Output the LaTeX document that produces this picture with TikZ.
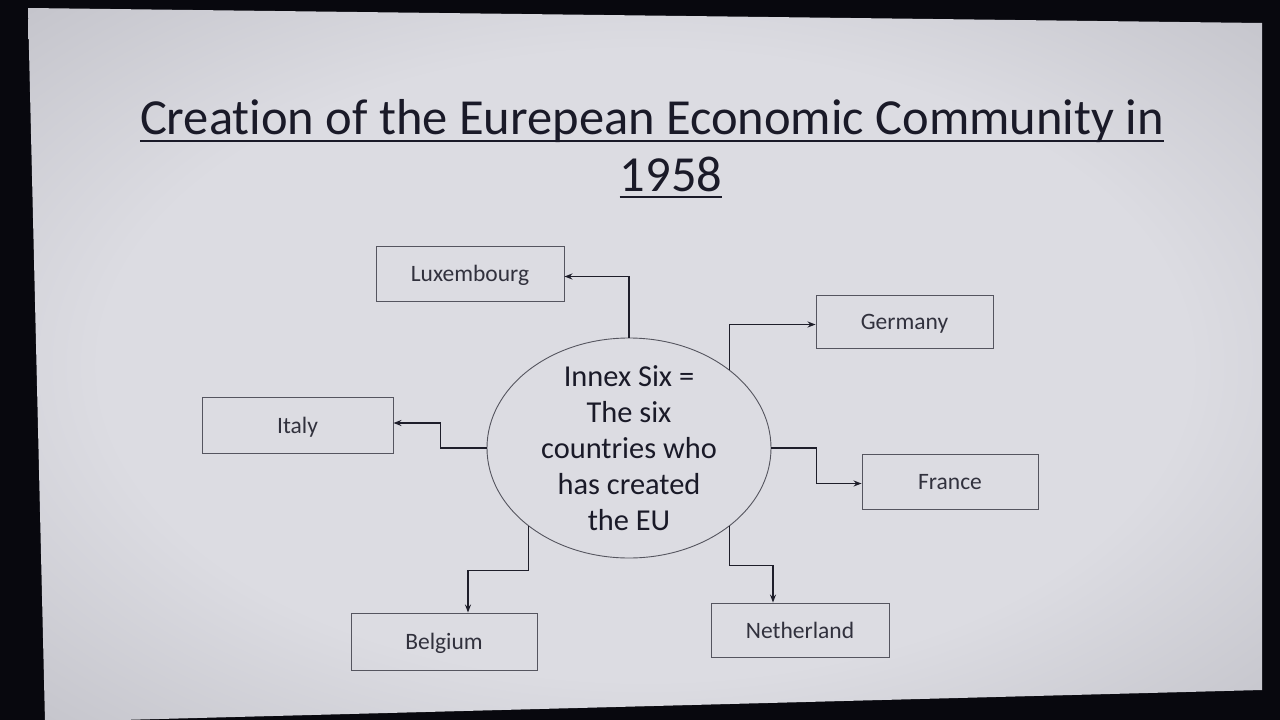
\documentclass[tikz,border=0pt]{standalone}
\usepackage{fontspec}
\setmainfont[Ligatures={NoCommon}]{Carlito}
\usetikzlibrary{arrows.meta,shapes.geometric}
\definecolor{framec}{RGB}{8,8,14}
\definecolor{scrA}{RGB}{220,220,226}
\definecolor{scrB}{RGB}{175,175,183}
\definecolor{scrC}{RGB}{85,85,95}
\definecolor{inkc}{RGB}{26,26,40}
\definecolor{linec}{RGB}{30,30,42}
\definecolor{boxc}{RGB}{85,85,95}
\pgfdeclareradialshading{screenshade}{\pgfpoint{0bp}{0bp}}{color(0bp)=(scrA); color(22bp)=(scrA); color(48bp)=(scrB); color(72bp)=(scrC)}
\tikzset{
  titletext/.style={font=\fontsize{50.5}{58}\selectfont, text=inkc, inner sep=0pt, anchor=base},
  country/.style={draw=boxc, line width=0.9pt, rectangle, inner sep=0pt, text=inkc!90, font=\fontsize{23.5}{28}\selectfont, text depth=0pt},
  hubstyle/.style={draw=boxc, line width=0.9pt, ellipse, inner xsep=0pt, inner ysep=-15pt, minimum width=284pt, minimum height=220pt, align=center, text=inkc, font=\fontsize{30.4}{36}\selectfont},
  conn/.style={draw=linec, line width=1.4pt, -{Stealth[length=8pt,width=6pt]}},
  ulinestyle/.style={draw=inkc, line width=1.8pt}
}
\begin{document}
\begin{tikzpicture}[x=1pt,y=-1pt]
\useasboundingbox (0,0) rectangle (1280,720);
\fill[framec] (0,0) rectangle (1280,720);
\shade[shading=screenshade] (28,8) -- (1262,23) -- (1262,690) -- (45,722) -- cycle;

\node[titletext] (t1) at (652,134) {Creation of the Eurepean Economic Community in};
\node[titletext] (t2) at (671,191) {1958};
\draw[ulinestyle] ([yshift=-7]t1.base west) -- ([yshift=-7]t1.base east);
\draw[ulinestyle] ([yshift=-6]t2.base west) -- ([yshift=-6]t2.base east);

\node[hubstyle] (hub) at (629,448) {Innex Six =\\The six\\countries who\\has created\\the EU};

\node[country, minimum width=188pt, minimum height=55pt] (lux) at (470,273.5) {Luxembourg};
\node[country, minimum width=177pt, minimum height=53pt] (ger) at (904.5,321.5) {Germany};
\node[country, minimum width=191pt, minimum height=56pt] (ita) at (297.5,425) {Italy};
\node[country, minimum width=176pt, minimum height=55pt] (fra) at (950,481.5) {France};
\node[country, minimum width=186pt, minimum height=57pt] (bel) at (444,641.5) {Belgium};
\node[country, minimum width=178pt, minimum height=54pt] (net) at (800,630) {Netherland};

\draw[conn] (hub.north) |- ([yshift=-3]lux.east);
\draw[conn] (hub.38) |- ([yshift=-3]ger.west);
\draw[conn] (hub.west) -- ++(-46,0) |- ([yshift=2]ita.east);
\draw[conn] (hub.east) -- ++(45,0) |- ([yshift=-2]fra.west);
\draw[conn] (hub.218) -- ++(0,44) -| ([xshift=24]bel.north);
\draw[conn] (hub.322) -- ++(0,39) -| ([xshift=-27]net.north);
\end{tikzpicture}
\end{document}
